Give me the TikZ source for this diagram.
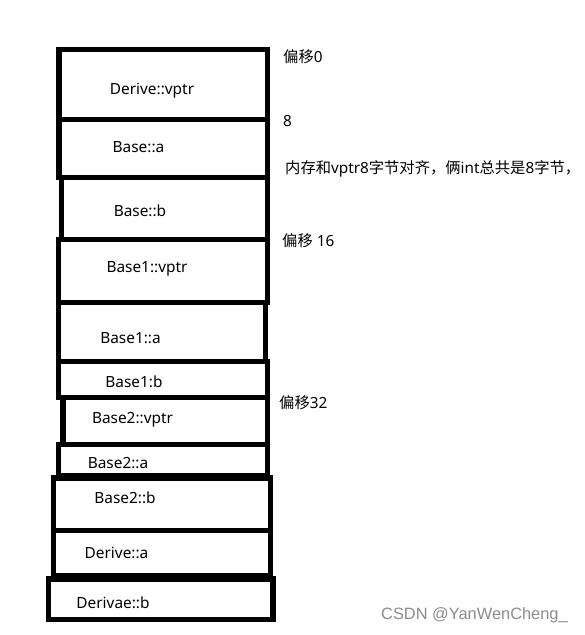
\documentclass[tikz,border=0pt]{standalone}
\usepackage{fontspec}
\setmainfont{Noto Sans}
\newfontfamily\cjk{Noto Sans CJK SC}
\newfontfamily\wmfont{Liberation Sans}
\definecolor{wmgray}{RGB}{140,140,140}
\begin{document}
\begin{tikzpicture}[x=1pt,y=-1pt,
  box/.style={draw=black,line width=5.5pt},
  lbl/.style={inner sep=0pt,font=\fontsize{15.4}{17}\selectfont},
  side/.style={inner sep=0pt,anchor=west,font=\fontsize{15.3}{17}\selectfont}]
\fill[white] (0,0) rectangle (585,635);
\useasboundingbox (0,0) rectangle (585,635);
% memory boxes
\draw[box] (59,49.5) rectangle (267.5,119.5);
\draw[box] (59,119.5) rectangle (267.5,177.5);
\draw[box] (61.5,177.5) rectangle (267.5,239.5);
\draw[box] (58.5,239.5) rectangle (267.5,302.5);
\draw[box] (58.5,302.5) rectangle (265.5,361.5);
\draw[box] (58.5,361.5) rectangle (267.5,397.5);
\draw[box] (63,397.5) rectangle (267.5,444.5);
\draw[box] (58.5,444.5) rectangle (267.5,476);
\draw[box] (53.5,478) rectangle (270.5,530.5);
\draw[box] (53.5,530.5) rectangle (270.5,576);
\draw[box] (48.5,579) rectangle (273,619.5);
% box labels
\node[lbl] (t1) at (152,91) {Derive::vptr};
\node[lbl] (t2) at (138.5,147) {Base::a};
\node[lbl] (t3) at (140,211) {Base::b};
\node[lbl] (t4) at (147,269) {Base1::vptr};
\node[lbl] (t5) at (130.5,338) {Base1::a};
\node[lbl] (t6) at (134,382) {Base1:b};
\node[lbl] (t7) at (132.5,420) {Base2::vptr};
\node[lbl] (t8) at (118,463) {Base2::a};
\node[lbl] (t9) at (125,498) {Base2::b};
\node[lbl] (t10) at (116.5,553) {Derive::a};
\node[lbl] (t11) at (113,603) {Derivae::b};
% side notes
\node[side] (s1) at (283,57) {{\cjk 偏移}0};
\node[side] (s2) at (283,121) {8};
\node[side] (s3) at (285,169) {{\cjk 内存和}vptr8{\cjk 字节对齐，俩}int{\cjk 总共是}8{\cjk 字节，}};
\node[side] (s4) at (282,241) {{\cjk 偏移} 16};
\node[side] (s5) at (279,403) {{\cjk 偏移}32};
\node[inner sep=0pt,anchor=west,text=wmgray,font=\wmfont\fontsize{16.4}{18}\selectfont] (wm) at (381,615) {CSDN @YanWenCheng\_};
\end{tikzpicture}
\end{document}
